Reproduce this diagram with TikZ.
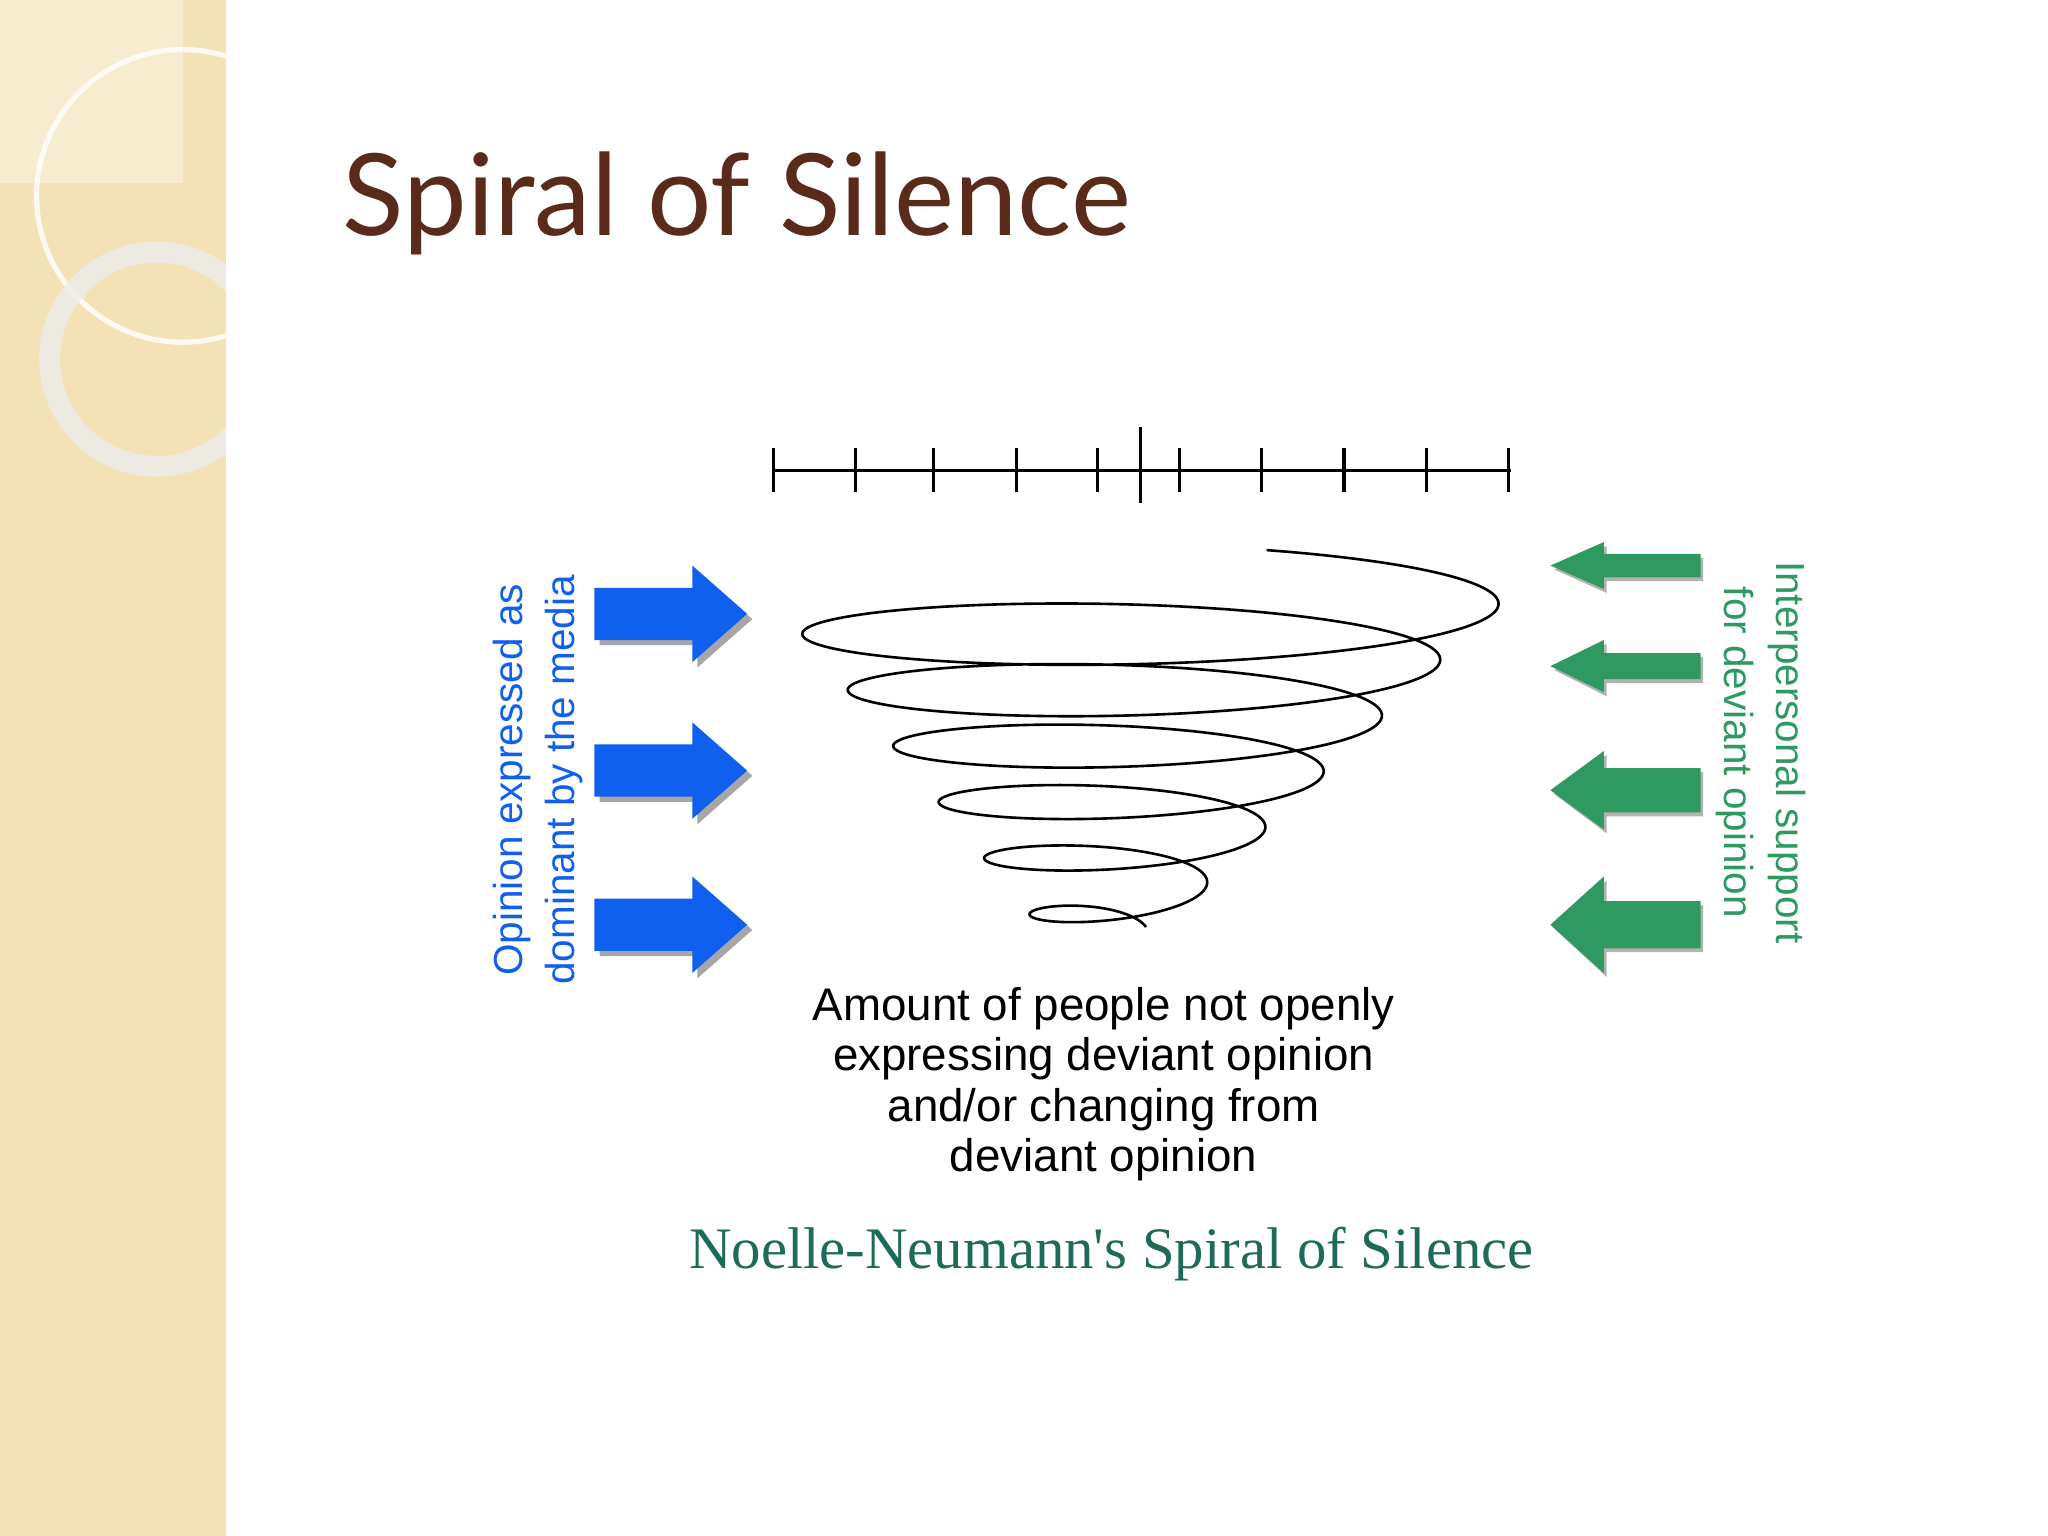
\documentclass[tikz,border=0pt]{standalone}
\usepackage{fontspec}
\setmainfont{Liberation Sans}
\newfontfamily\titlefont{Lato}
\newfontfamily\capfont{Liberation Serif}
\definecolor{strip}{HTML}{F3E2B6}
\definecolor{titlec}{HTML}{5A2A1A}
\definecolor{blu}{HTML}{1060F0}
\definecolor{grn}{HTML}{2E9A62}
\definecolor{capc}{HTML}{1E6B5A}
\begin{document}
\begin{tikzpicture}[x=0.5pt,y=-0.5pt,
 barrowR/.style={fill=blu},
 barrowL/.style={fill=grn},
 tick/.style={line width=1.2pt}]
\useasboundingbox (0,0) rectangle (1568,1176);
\fill[white] (0,0) rectangle (1568,1176);
\fill[strip] (0,0) rectangle (173,1176);
\begin{scope}
\clip (0,0) rectangle (173,1176);
\fill[white,opacity=0.35] (0,0) rectangle (140,140);
\draw[white,line width=2pt,opacity=0.8] (140,150) circle[radius=112];
\draw[white!85!gray,line width=8pt,opacity=0.8] (120,275) circle[radius=82];
\end{scope}
\node[anchor=base west,text=titlec,font=\titlefont\fontsize{43.5}{48}\selectfont,inner sep=0] (title) at (262,180) {Spiral of Silence};
% ruler
\coordinate (r0) at (592,360); \coordinate (r1) at (1157,360);
\draw[tick] (r0) -- (r1);
\foreach \x in {592,655,715,778,840,903,966,1029,1092,1155} \draw[tick] (\x,343) -- (\x,377);
\draw[tick] (873,327) -- (873,385);
% spiral
\draw[line width=1pt] plot[domain=0:1,samples=600,smooth] ({873-30*\x + (283-243*\x)*cos(2200*\x-70)}, {455+262*\x + (36-22*\x)*sin(2200*\x-70)});
% blue arrows
\foreach \y/\n in {470/a,590/b,708/c}{
 \fill[gray!70] (455+4,\y-20+4) -- (530+4,\y-20+4) -- (530+4,\y-37+4) -- (572+4,\y+4) -- (530+4,\y+37+4) -- (530+4,\y+20+4) -- (455+4,\y+20+4) -- cycle;
 \fill[barrowR] (455,\y-20) -- (530,\y-20) -- (530,\y-37) -- (572,\y) -- (530,\y+37) -- (530,\y+20) -- (455,\y+20) -- cycle;
}
% green arrows
\foreach \y/\b/\h in {433/9/18,510/10/20,605/17/30,708/18/37}{
 \fill[gray!60] (1304,\y-\b+3) -- (1230,\y-\b+3) -- (1230,\y-\h+3) -- (1190,\y+3) -- (1230,\y+\h+3) -- (1230,\y+\b+3) -- (1304,\y+\b+3) -- cycle;
 \fill[barrowL] (1302,\y-\b) -- (1228,\y-\b) -- (1228,\y-\h) -- (1187,\y) -- (1228,\y+\h) -- (1228,\y+\b) -- (1302,\y+\b) -- cycle;
}
\node[rotate=90,text=blu,align=center,font=\fontsize{15.5}{20}\selectfont] (lt) at (412,597) {Opinion expressed as\\dominant by the media};
\node[rotate=-90,text=grn,align=center,font=\fontsize{15.5}{20}\selectfont] (rt) at (1348,576) {Interpersonal support\\for deviant opinion};
\node[align=center,font=\fontsize{17.5}{19.3}\selectfont] (amt) at (845,830) {Amount of people not openly\\expressing deviant opinion\\and/or changing from\\deviant opinion};
\node[text=capc,font=\capfont\fontsize{22.5}{26}\selectfont] (cap) at (851,960) {Noelle-Neumann's Spiral of Silence};
\end{tikzpicture}
\end{document}
